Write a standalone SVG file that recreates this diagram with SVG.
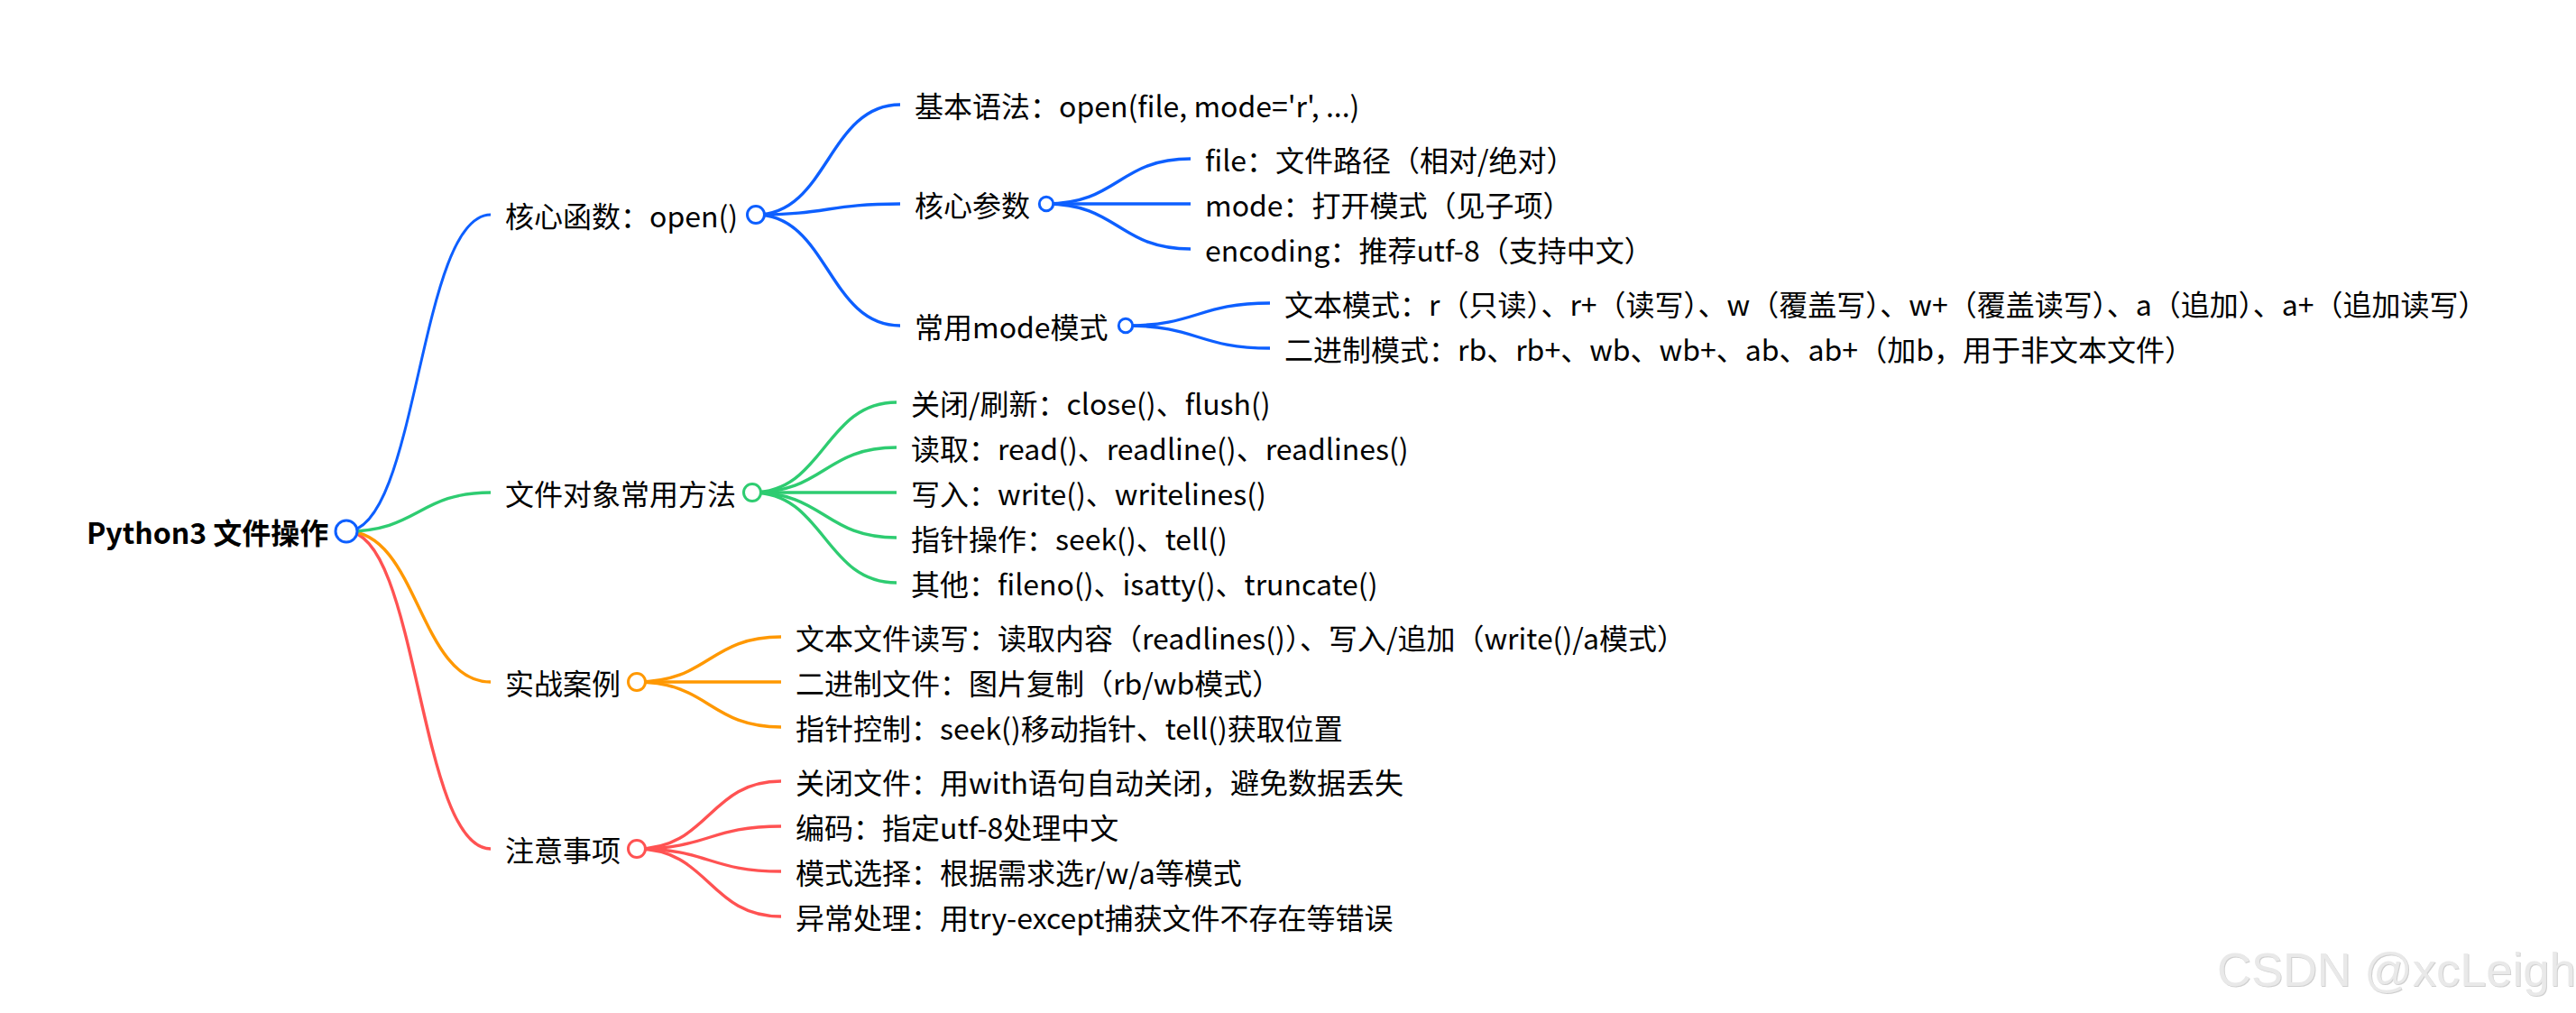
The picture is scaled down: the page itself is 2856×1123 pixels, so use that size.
<svg xmlns="http://www.w3.org/2000/svg" width="2856" height="1123" viewBox="0 0 2856 1123">
<style>
text{font-family:"Noto Sans CJK SC","Noto Sans",sans-serif;font-size:32px;fill:#000}
.root{font-weight:700}
.l{fill:none;stroke-width:3.4}
.t{stroke-width:3}
.b{stroke:#0d5fff}.g{stroke:#2ecc71}.o{stroke:#ff9800}.r{stroke:#ff5252}
circle{fill:#fff;stroke-width:3}
.wm{font-family:"Liberation Sans",Arial,sans-serif;font-size:52.5px;fill:#e9e9e9;filter:url(#emb)}
</style>
<defs><filter id="emb" x="-2%" y="-10%" width="104%" height="120%"><feDropShadow dx="1" dy="1" stdDeviation="0.6" flood-color="#cfcfcf"/></filter></defs>
<rect width="2856" height="1123" fill="#fff"/>
<g id="connectors">
<path class="l r" d="M384 589C464 589 464 941 544 941"/>
<path class="l o" d="M384 589C464 589 464 756 544 756"/>
<path class="l g" d="M384 589C464 589 464 546 544 546"/>
<path class="l b t" d="M384 589C464 589 464 238 544 238"/>
<path class="l b" d="M838 238C918 238 918 116 998 116"/>
<path class="l b" d="M838 238C918 238 918 226 998 226"/>
<path class="l b" d="M838 238C918 238 918 361 998 361"/>
<path class="l b" d="M1160 226C1240 226 1240 176 1320 176"/>
<path class="l b" d="M1160 226H1320"/>
<path class="l b" d="M1160 226C1240 226 1240 276 1320 276"/>
<path class="l b" d="M1248 361C1328 361 1328 336 1408 336"/>
<path class="l b" d="M1248 361C1328 361 1328 386 1408 386"/>
<path class="l g" d="M834 546C914 546 914 446 994 446"/>
<path class="l g" d="M834 546C914 546 914 496 994 496"/>
<path class="l g" d="M834 546H994"/>
<path class="l g" d="M834 546C914 546 914 596 994 596"/>
<path class="l g" d="M834 546C914 546 914 646 994 646"/>
<path class="l o" d="M706 756C786 756 786 706 866 706"/>
<path class="l o" d="M706 756H866"/>
<path class="l o" d="M706 756C786 756 786 806 866 806"/>
<path class="l r" d="M706 941C786 941 786 866 866 866"/>
<path class="l r" d="M706 941C786 941 786 916 866 916"/>
<path class="l r" d="M706 941C786 941 786 966 866 966"/>
<path class="l r" d="M706 941C786 941 786 1016 866 1016"/>
</g>
<g id="root"><text class="root" x="96" y="603">Python3 文件操作</text><circle class="b" cx="384" cy="589" r="12"/></g>
<g id="n1"><text x="560" y="252">核心函数：open()</text><circle class="b" cx="838" cy="238" r="9.5"/></g>
<g id="n11"><text x="1014" y="130">基本语法：open(file, mode='r', ...)</text></g>
<g id="n12"><text x="1014" y="240">核心参数</text><circle class="b" cx="1160" cy="226" r="7.7"/></g>
<g id="n121"><text x="1336" y="190">file：文件路径（相对/绝对）</text></g>
<g id="n122"><text x="1336" y="240">mode：打开模式（见子项）</text></g>
<g id="n123"><text x="1336" y="290">encoding：推荐utf-8（支持中文）</text></g>
<g id="n13"><text x="1014" y="375">常用mode模式</text><circle class="b" cx="1248" cy="361" r="7.7"/></g>
<g id="n131"><text x="1424" y="350">文本模式：r（只读）、r+（读写）、w（覆盖写）、w+（覆盖读写）、a（追加）、a+（追加读写）</text></g>
<g id="n132"><text x="1424" y="400">二进制模式：rb、rb+、wb、wb+、ab、ab+（加b，用于非文本文件）</text></g>
<g id="n2"><text x="560" y="560">文件对象常用方法</text><circle class="g" cx="834" cy="546" r="9.5"/></g>
<g id="n21"><text x="1010" y="460">关闭/刷新：close()、flush()</text></g>
<g id="n22"><text x="1010" y="510">读取：read()、readline()、readlines()</text></g>
<g id="n23"><text x="1010" y="560">写入：write()、writelines()</text></g>
<g id="n24"><text x="1010" y="610">指针操作：seek()、tell()</text></g>
<g id="n25"><text x="1010" y="660">其他：fileno()、isatty()、truncate()</text></g>
<g id="n3"><text x="560" y="770">实战案例</text><circle class="o" cx="706" cy="756" r="9.5"/></g>
<g id="n31"><text x="882" y="720">文本文件读写：读取内容（readlines()）、写入/追加（write()/a模式）</text></g>
<g id="n32"><text x="882" y="770">二进制文件：图片复制（rb/wb模式）</text></g>
<g id="n33"><text x="882" y="820">指针控制：seek()移动指针、tell()获取位置</text></g>
<g id="n4"><text x="560" y="955">注意事项</text><circle class="r" cx="706" cy="941" r="9.5"/></g>
<g id="n41"><text x="882" y="880">关闭文件：用with语句自动关闭，避免数据丢失</text></g>
<g id="n42"><text x="882" y="930">编码：指定utf-8处理中文</text></g>
<g id="n43"><text x="882" y="980">模式选择：根据需求选r/w/a等模式</text></g>
<g id="n44"><text x="882" y="1030">异常处理：用try-except捕获文件不存在等错误</text></g>
<text class="wm" x="2458" y="1093">CSDN @xcLeigh</text>
</svg>
